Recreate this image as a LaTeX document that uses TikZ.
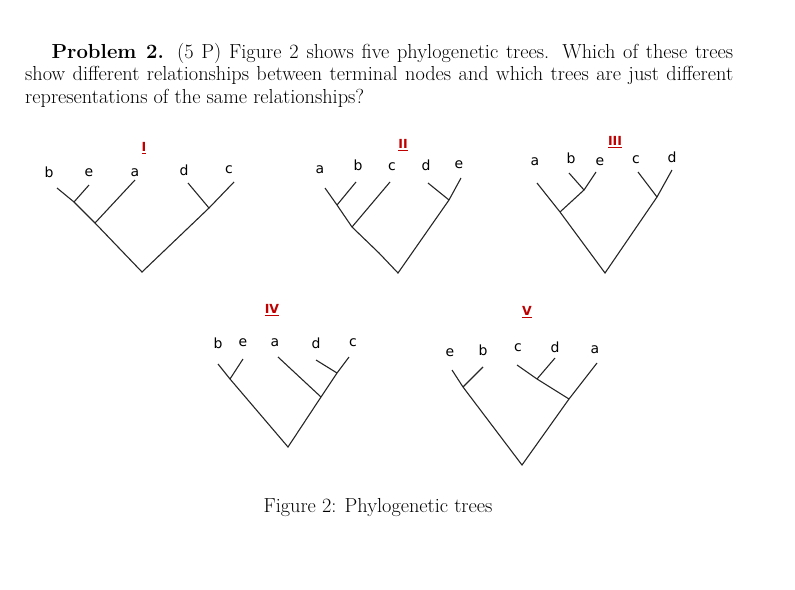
\documentclass[tikz,border=0pt]{standalone}
\usepackage{fontspec}
\newfontfamily\hand{DejaVu Sans}
\begin{document}
\begin{tikzpicture}[x=1pt,y=-1pt,
  br/.style={line width=1.1pt,black!85},
  lf/.style={font=\hand\fontsize{14}{14}\selectfont,inner sep=0pt},
  num/.style={font=\hand\bfseries\fontsize{12.5}{12.5}\selectfont,text=red!75!black,inner sep=0pt}]
\useasboundingbox (0,0) rectangle (795,589);
\node[anchor=north west,text width=708pt,align=justify,inner sep=0pt,font=\fontsize{20.3}{22.3}\selectfont] (txt) at (25,43)
{\hspace*{1.3em}\textbf{Problem 2.} (5 P) Figure 2 shows five phylogenetic trees. Which of these trees\linebreak show different relationships between terminal nodes and which trees are just different\linebreak representations of the same relationships?};
\node[font=\fontsize{20.3}{22}\selectfont] (cap) at (378,508) {Figure 2: Phylogenetic trees};
% Tree I
\node[num] (nI) at (144,148) {\underline{I}};
\foreach \n/\t/\x/\y in {Ib/b/49/172,Ie/e/89/173,Ia/a/135/173,Id/d/184/170,Ic/c/229/170}
  \node[lf] (\n) at (\x,\y) {\t};
\coordinate (I1) at (74,202); \coordinate (I2) at (95,223); \coordinate (I3) at (209,208); \coordinate (I0) at (142,272);
\draw[br] (57,188) -- (I1) -- (I2) -- (I0) -- (I3) -- (234,182);
\draw[br] (I1) -- (89,185); \draw[br] (I2) -- (135,180); \draw[br] (I3) -- (188,183);
% Tree II
\node[num] (nII) at (403,145) {\underline{II}};
\foreach \n/\t/\x/\y in {IIa/a/320/170,IIb/b/358/165,IIc/c/392/167,IId/d/426/165,IIe/e/459/165}
  \node[lf] (\n) at (\x,\y) {\t};
\coordinate (J1) at (337,205); \coordinate (J2) at (352,227); \coordinate (J3) at (449,200); \coordinate (J0) at (398,273);
\draw[br] (325,188) -- (J1) -- (J2) -- (379,253) -- (J0) -- (J3) -- (461,178);
\draw[br] (J1) -- (356,182); \draw[br] (J2) -- (390,182); \draw[br] (J3) -- (428,183);
% Tree III
\node[num] (nIII) at (615,142) {\underline{III}};
\foreach \n/\t/\x/\y in {IIIa/a/535/162,IIIb/b/571/158,IIIe/e/600/162,IIIc/c/636/160,IIId/d/672/157}
  \node[lf] (\n) at (\x,\y) {\t};
\coordinate (K1) at (584,190); \coordinate (K2) at (560,212); \coordinate (K3) at (657,197); \coordinate (K0) at (605,273);
\draw[br] (537,183) -- (K2) -- (K0) -- (K3) -- (672,170);
\draw[br] (K2) -- (K1) -- (596,172); \draw[br] (K1) -- (569,173); \draw[br] (K3) -- (638,172);
% Tree IV
\node[num] (nIV) at (272,310) {\underline{IV}};
\foreach \n/\t/\x/\y in {IVb/b/218/343,IVe/e/243/343,IVa/a/275/343,IVd/d/316/343,IVc/c/353/343}
  \node[lf] (\n) at (\x,\y) {\t};
\coordinate (L1) at (230,379); \coordinate (L2) at (321,397); \coordinate (L3) at (337,373); \coordinate (L0) at (288,447);
\draw[br] (218,364) -- (L1) -- (L0) -- (L2) -- (L3) -- (349,357);
\draw[br] (L1) -- (243,359); \draw[br] (L2) -- (278,357); \draw[br] (L3) -- (316,360);
% Tree V
\node[num] (nV) at (527,312) {\underline{V}};
\foreach \n/\t/\x/\y in {Ve/e/450/353,Vb/b/483/350,Vc/c/518/348,Vd/d/555/347,Va/a/595/350}
  \node[lf] (\n) at (\x,\y) {\t};
\coordinate (M1) at (463,387); \coordinate (M2) at (537,379); \coordinate (M3) at (569,399); \coordinate (M0) at (522,465);
\draw[br] (452,370) -- (M1) -- (M0) -- (M3) -- (597,363);
\draw[br] (M1) -- (483,367); \draw[br] (517,365) -- (M2) -- (M3); \draw[br] (M2) -- (555,358);
\end{tikzpicture}
\end{document}
